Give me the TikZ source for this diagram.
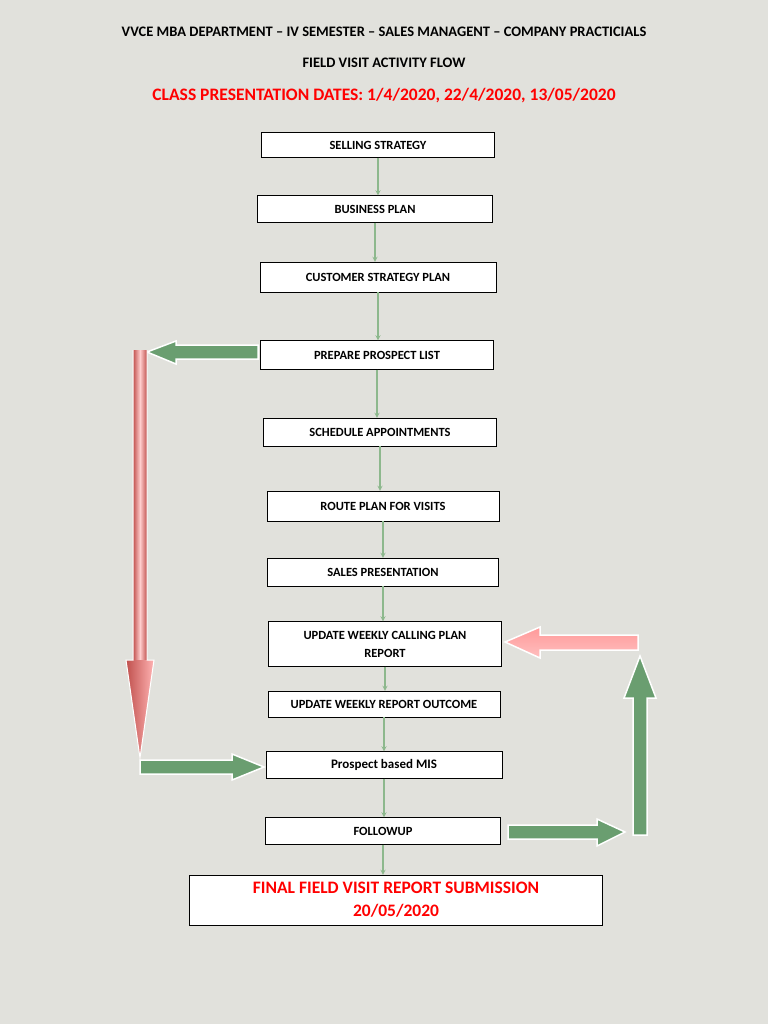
\documentclass[tikz,border=0pt]{standalone}
\usepackage{fontspec}
\setmainfont{Carlito}
\usetikzlibrary{positioning}
\definecolor{bg}{HTML}{E1E1DC}
\definecolor{lgreen}{HTML}{8DB88D}
\definecolor{dgreen}{HTML}{6A9E70}
\definecolor{dred}{HTML}{C0504D}
\tikzset{
box/.style={draw, fill=white, thin, inner sep=0pt, font=\bfseries\fontsize{12.5}{15}\selectfont, align=center}, % process boxes
flow/.style={->, >=stealth, draw=lgreen, line width=1.2pt}, % thin connectors
blockg/.style={fill=dgreen, draw=white, line width=1.5pt}, % green block arrows
}
\begin{document}
\begin{tikzpicture}[x=1pt,y=-1pt]
\fill[bg] (0,0) rectangle (768,1024);
\useasboundingbox (0,0) rectangle (768,1024);
\node[font=\bfseries\fontsize{14.5}{17}\selectfont] (t1) at (384,32) {VVCE MBA DEPARTMENT -- IV SEMESTER -- SALES MANAGENT -- COMPANY PRACTICIALS};
\node[font=\bfseries\fontsize{14.5}{17}\selectfont] (t2) at (384,63) {FIELD VISIT ACTIVITY FLOW};
\node[font=\bfseries\fontsize{17.5}{20}\selectfont, text=red] (t3) at (384,96) {CLASS PRESENTATION DATES: 1/4/2020, 22/4/2020, 13/05/2020};
% process boxes
\node[box, minimum width=233, minimum height=25] (sell) at (378,145) {SELLING STRATEGY};
\node[box, minimum width=235, minimum height=27] (bus) at (375,209) {BUSINESS PLAN};
\node[box, minimum width=236, minimum height=30] (cust) at (378,277) {CUSTOMER STRATEGY PLAN};
\node[box, minimum width=233, minimum height=29] (prep) at (377,355) {PREPARE PROSPECT LIST};
\node[box, minimum width=233, minimum height=28] (sched) at (380,432) {SCHEDULE APPOINTMENTS};
\node[box, minimum width=232, minimum height=30] (route) at (383,506) {ROUTE PLAN FOR VISITS};
\node[box, minimum width=231, minimum height=28] (pres) at (383,572) {SALES PRESENTATION};
\node[box, minimum width=233, minimum height=45, font=\bfseries\fontsize{12.5}{18}\selectfont] (upd) at (385,644) {UPDATE WEEKLY CALLING PLAN\\REPORT};
\node[box, minimum width=232, minimum height=26] (out) at (384,704) {UPDATE WEEKLY REPORT OUTCOME};
\node[box, minimum width=236, minimum height=27, font=\bfseries\fontsize{13}{15}\selectfont] (mis) at (384,765) {Prospect based MIS};
\node[box, minimum width=235, minimum height=27] (fol) at (383,831) {FOLLOWUP};
\node[box, minimum width=413, minimum height=50, text=red, font=\bfseries\fontsize{17.5}{23}\selectfont] (fin) at (396,900) {FINAL FIELD VISIT REPORT SUBMISSION\\20/05/2020};
% connectors
\draw[flow] (sell) -- (sell |- bus.north);
\draw[flow] (bus) -- (bus |- cust.north);
\draw[flow] (cust) -- (cust |- prep.north);
\draw[flow] (prep) -- (prep |- sched.north);
\draw[flow] (sched) -- (sched |- route.north);
\draw[flow] (route) -- (route |- pres.north);
\draw[flow] (pres) -- (pres |- upd.north);
\draw[flow] (upd) -- (upd |- out.north);
\draw[flow] (out) -- (out |- mis.north);
\draw[flow] (mis) -- (mis |- fol.north);
\draw[flow] (fol) -- (fol |- fin.north);
% block arrows
\filldraw[blockg] (258,345) -- (176,345) -- (176,341) -- (147,352) -- (176,364) -- (176,359) -- (258,359) -- cycle;
\shade[top color=dred, bottom color=dred, middle color=red!20, shading angle=90] (133,350) rectangle (147,660);
\shade[left color=dred, right color=red!30] (126,660) -- (154,660) -- (140,758) -- cycle;
\draw[white, line width=1pt] (133,350) -- (133,660) -- (126,660) -- (140,758) -- (154,660) -- (147,660) -- (147,350);
\filldraw[blockg] (140,760) -- (232,760) -- (232,754) -- (264,767) -- (232,780) -- (232,774) -- (140,774) -- cycle;
\filldraw[blockg] (508,825) -- (597,825) -- (597,819) -- (625,832) -- (597,846) -- (597,839) -- (508,839) -- cycle;
\filldraw[blockg] (633,835) -- (633,698) -- (624,698) -- (640,656) -- (656,698) -- (647,698) -- (647,835) -- cycle;
\shade[top color=red!40, bottom color=red!25, draw=white, line width=1.5pt] (638,635) -- (540,635) -- (540,627) -- (505,642) -- (540,658) -- (540,650) -- (638,650) -- cycle;
\end{tikzpicture}
\end{document}
